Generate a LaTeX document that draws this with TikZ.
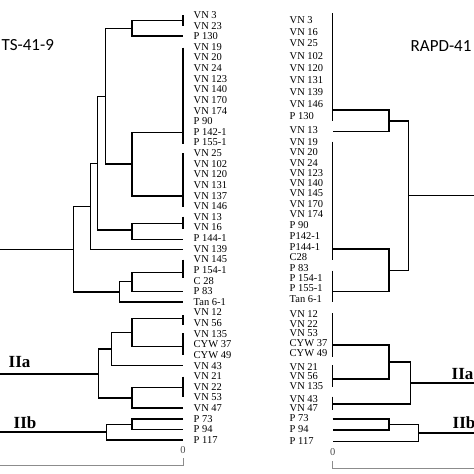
\documentclass[tikz,border=0pt]{standalone}
\usepackage{fontspec}
\setmainfont{Liberation Serif}
\newfontfamily\titlefont{Carlito}
\begin{document}
\begin{tikzpicture}[x=1pt,y=-1pt,line width=1.4pt,
  leaf/.style={anchor=west,inner sep=0pt,font=\fontsize{10.5}{11}\selectfont},
  grp/.style={anchor=west,inner sep=0pt,font=\fontsize{17}{18}\selectfont\bfseries},
  axis/.style={line width=0.8pt,draw=black!45}]
  \useasboundingbox (0,0) rectangle (474,474);
  % titles
  \node[anchor=west,inner sep=0pt,font=\fontsize{17}{18}\selectfont\titlefont] (its) at (1,45) {TS-41-9};
  \node[anchor=west,inner sep=0pt,font=\fontsize{17}{18}\selectfont\titlefont] (rapd) at (410,46) {RAPD-41};
  % left tree: leaves
  \foreach \lab [count=\i from 0] in {VN 3,VN 23,P 130,VN 19,VN 20,VN 24,VN 123,VN 140,VN 170,
      VN 174,P 90,P 142-1,P 155-1,VN 25,VN 102,VN 120,VN 131,VN 137,VN 146,VN 13,VN 16,
      P 144-1,VN 139,VN 145,P 154-1,C 28,P 83,Tan 6-1,VN 12,VN 56,VN 135,CYW 37,CYW 49,
      VN 43,VN 21,VN 22,VN 53,VN 47,P 73,P 94,P 117}
    \node[leaf] (l\i) at (193,15+10.625*\i) {\lab};
  % left tree: zero bars
  \draw (183,15) -- (183,26);
  \draw (183,47.5) -- (183,144);
  \draw (183,153) -- (183,207);
  \draw (183,216.5) -- (183,228.5);
  \draw (183,259.5) -- (183,278);
  \draw (183,315) -- (183,325);
  \draw (183,333) -- (183,355);
  \draw (183,376.7) -- (183,396.7);
  % left tree: cluster I
  \draw (183,20.7) -- (132,20.7) -- (132,36) -- (183,36);
  \draw (183,132.7) -- (132,132.7) -- (132,196) -- (183,196);
  \draw (132,28.3) -- (105.3,28.3) -- (105.3,164) -- (132,164);
  \draw (105.3,96.5) -- (97.7,96.5) -- (97.7,230) -- (132,230);
  \draw (183,223.3) -- (132,223.3) -- (132,239.3) -- (183,239.3);
  \draw (97.7,163.3) -- (90.7,163.3) -- (90.7,249.3) -- (183,249.3);
  \draw (90.7,206.5) -- (73.3,206.5) -- (73.3,292) -- (119.3,292);
  \draw (183,272.7) -- (132,272.7) -- (132,291.3) -- (183,291.3);
  \draw (132,281.7) -- (119.3,281.7) -- (119.3,302) -- (183,302);
  \draw (73.3,249.3) -- (0,249.3);
  % left tree: cluster IIa
  \draw (183,318.3) -- (132,318.3) -- (132,346.7) -- (183,346.7);
  \draw (132,332.7) -- (111.3,332.7) -- (111.3,365.6) -- (183,365.6);
  \draw (183,387.3) -- (132,387.3) -- (132,408) -- (183,408);
  \draw (111.3,349) -- (98.7,349) -- (98.7,398) -- (132,398);
  \draw (98.7,374) -- (0,374);
  % left tree: cluster IIb
  \draw (183,419) -- (132,419) -- (132,429.4) -- (183,429.4);
  \draw (132,424.2) -- (106.7,424.2) -- (106.7,440) -- (183,440);
  \draw (106.7,432) -- (0,432);
  \node[grp] (iiaL) at (8,362.5) {IIa};
  \node[grp] (iibL) at (13,423) {IIb};
  % left scale
  \node[leaf,anchor=center,text=black!70] (zeroL) at (183,450) {0};
  \draw[axis] (0,465.7) -- (183,465.7) -- (183,458.3);
  % right tree: leaves
  \foreach \y/\lab [count=\i from 0] in {20/VN 3,32.3/VN 16,43.3/VN 25,55.7/VN 102,67.7/VN 120,
      80/VN 131,91.7/VN 139,104/VN 146,116/P 130,130/VN 13,141.7/VN 19,151.7/VN 20,
      163.3/VN 24,173.3/VN 123,183.3/VN 140,193.3/VN 145,204/VN 170,214.3/VN 174,225/P 90,
      236/P142-1,246.7/P144-1,256.7/C28,268.3/P 83,278.3/P 154-1,288.3/P 155-1,
      299.3/Tan 6-1,314.3/VN 12,324.3/VN 22,333.3/VN 53,343.3/CYW 37,353.3/CYW 49,
      367.2/VN 21,376.4/VN 56,385.7/VN 135,399/VN 43,408.3/VN 47,418.3/P 73,429/P 94,
      440.7/P 117}
    \node[leaf] (r\i) at (289,\y) {\lab};
  % right tree: zero bars
  \draw (332.7,13.3) -- (332.7,120.7);
  \draw (332.7,141.7) -- (332.7,260);
  \draw (332.7,270.7) -- (332.7,301.7);
  \draw (332.7,313.3) -- (332.7,356.7);
  \draw (332.7,365) -- (332.7,387.3);
  \draw (332.7,396.7) -- (332.7,410);
  % right tree: clusters
  \draw (332.7,110) -- (389,110) -- (389,131.7) -- (332.7,131.7);
  \draw (332.7,249) -- (389,249) -- (389,291.7) -- (332.7,291.7);
  \draw (389,120.8) -- (408.3,120.8) -- (408.3,270.3) -- (389,270.3);
  \draw (408.3,195.5) -- (474,195.5);
  \draw (332.7,345) -- (389,345) -- (389,379) -- (332.7,379);
  \draw (389,362) -- (410.7,362) -- (410.7,404) -- (332.7,404);
  \draw (410.7,383) -- (474,383);
  \draw (332.7,419) -- (389,419) -- (389,430) -- (332.7,430);
  \draw (389,424.5) -- (418.3,424.5) -- (418.3,441.7) -- (332.7,441.7);
  \draw (418.3,433) -- (474,433);
  \node[grp] (iiaR) at (451,374) {IIa};
  \node[grp] (iibR) at (452,423) {IIb};
  % right scale
  \node[leaf,anchor=center,text=black!70] (zeroR) at (332.7,451.7) {0};
  \draw[axis] (474,468.3) -- (332.7,468.3) -- (332.7,461);
\end{tikzpicture}
\end{document}
